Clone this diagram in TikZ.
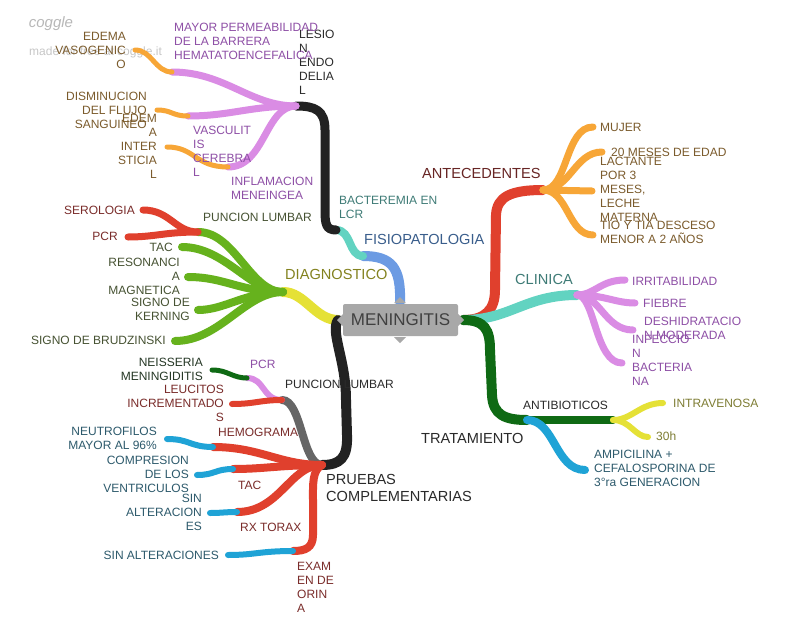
\documentclass[tikz,border=0pt]{standalone}
\usepackage{fontspec}
\setmainfont{Liberation Sans}
\definecolor{orangeB}{HTML}{F7A637}
\definecolor{violetB}{HTML}{DA8CE4}
\definecolor{tealB}{HTML}{62D3C1}
\definecolor{blueB}{HTML}{6C9BE3}
\definecolor{blackB}{HTML}{222222}
\definecolor{yellowB}{HTML}{E5E136}
\definecolor{greenB}{HTML}{66B21D}
\definecolor{redB}{HTML}{E0402D}
\definecolor{grayB}{HTML}{666666}
\definecolor{dkgreenB}{HTML}{0F6A14}
\definecolor{cyanB}{HTML}{1FA3D6}
\definecolor{brownT}{HTML}{7B5B2C}
\definecolor{violetT}{HTML}{8E4FA6}
\definecolor{tealT}{HTML}{3E7B76}
\definecolor{blueT}{HTML}{3A5E8C}
\definecolor{oliveT}{HTML}{83821F}
\definecolor{greenT}{HTML}{465232}
\definecolor{redT}{HTML}{7A2C2A}
\definecolor{darkT}{HTML}{2A2A2A}
\definecolor{cyanT}{HTML}{2D5A6C}
\definecolor{yellowT}{HTML}{7E7D34}
\definecolor{boxG}{HTML}{A8A8A8}
\begin{document}
\begin{tikzpicture}[x=1pt,y=-1pt,
  branch/.style={line width=#1, line cap=round},
  lf/.style={font=\fontsize{12}{14}\selectfont, inner sep=0pt, text=#1},
  big/.style={font=\fontsize{14.6}{17}\selectfont, inner sep=0pt, text=#1},
  lftR/.style={lf=#1, align=right},
  lftL/.style={lf=#1, align=left}]
\useasboundingbox[fill=white] (0,0) rectangle (785,640);
% watermark
\node[font=\fontsize{15}{15}\selectfont\itshape, text=black!28, inner sep=0pt] (wm1) at (51,24) {coggle};
\node[lf=black!22, anchor=west] (wm2) at (29,52) {made for free at coggle.it};

% coordinates
\coordinate (cT) at (400,302);
\coordinate (cL) at (338,320);
\coordinate (cR) at (463,320);
\coordinate (fisio) at (363,256);
\coordinate (bact) at (336,230);
\coordinate (lesion) at (296,106);
\coordinate (vTop) at (172,72);
\coordinate (vMid) at (188,116);
\coordinate (vLow) at (228,167);
\coordinate (oTop) at (135,50);
\coordinate (oMid) at (157,110);
\coordinate (oLow) at (167,147);
\coordinate (diag) at (283,292);
\coordinate (gPL) at (198,232);
\coordinate (gTAC) at (182,247);
\coordinate (gRES) at (188,277);
\coordinate (gKER) at (198,310);
\coordinate (gBRU) at (175,341);
\coordinate (rSER) at (143,210);
\coordinate (rPCR) at (128,237);
\coordinate (prue) at (322,465);
\coordinate (pPL) at (282,400);
\coordinate (pPCR) at (247,378);
\coordinate (pNEI) at (212,370);
\coordinate (pLEU) at (232,404);
\coordinate (pHEM) at (213,447);
\coordinate (pTAC) at (233,469);
\coordinate (pRX) at (237,512);
\coordinate (pEX) at (293,551);
\coordinate (bNEU) at (167,439);
\coordinate (bCOM) at (197,475);
\coordinate (bSIN) at (210,513);
\coordinate (bSIN2) at (228,555);
\coordinate (ante) at (543,190);
\coordinate (aMUJ) at (593,127);
\coordinate (a20) at (602,152);
\coordinate (aLAC) at (592,191);
\coordinate (aTIO) at (593,235);
\coordinate (clin) at (577,295);
\coordinate (cIRR) at (625,280);
\coordinate (cFIE) at (635,303);
\coordinate (cDES) at (633,330);
\coordinate (cINF) at (622,363);
\coordinate (trat) at (527,420);
\coordinate (anti) at (613,420);
\coordinate (yIV) at (663,403);
\coordinate (y30) at (648,437);
\coordinate (amp) at (585,470);

% ---- branches: FISIOPATOLOGIA
\draw[branch=10, blueB] (cT) .. controls (401,268) and (392,256) .. (fisio);
\draw[branch=8, tealB] (fisio) .. controls (348,256) and (352,230) .. (bact);
\draw[branch=9, blackB] (bact) .. controls (326,230) and (325,224) .. (325,210) -- (325,130) .. controls (325,110) and (315,106) .. (lesion);
\draw[branch=7, violetB] (lesion) .. controls (250,106) and (225,72) .. (vTop);
\draw[branch=7, violetB] (lesion) .. controls (250,106) and (230,116) .. (vMid);
\draw[branch=7, violetB] (lesion) .. controls (265,106) and (265,167) .. (vLow);
\draw[branch=5, orangeB] (vTop) .. controls (155,72) and (152,50) .. (oTop);
\draw[branch=5, orangeB] (vMid) .. controls (172,116) and (172,110) .. (oMid);
\draw[branch=5, orangeB] (vLow) .. controls (195,167) and (195,147) .. (oLow);
% ---- DIAGNOSTICO
\draw[branch=10, yellowB] (cL) .. controls (315,320) and (305,292) .. (diag);
\draw[branch=8, greenB] (diag) .. controls (250,292) and (235,232) .. (gPL);
\draw[branch=8, greenB] (diag) .. controls (250,292) and (225,247) .. (gTAC);
\draw[branch=8, greenB] (diag) .. controls (240,292) and (225,277) .. (gRES);
\draw[branch=8, greenB] (diag) .. controls (245,292) and (225,310) .. (gKER);
\draw[branch=8, greenB] (diag) .. controls (245,292) and (220,341) .. (gBRU);
\draw[branch=7, redB] (gPL) .. controls (175,232) and (170,210) .. (rSER);
\draw[branch=7, redB] (gPL) .. controls (165,232) and (155,237) .. (rPCR);
% ---- PRUEBAS
\draw[branch=10, blackB] (cL) .. controls (330,332) and (346,360) .. (346,400) -- (347,435) .. controls (348,458) and (340,465) .. (prue);
\draw[branch=8, grayB] (prue) .. controls (302,465) and (302,400) .. (pPL);
\draw[branch=6, violetB] (pPL) .. controls (262,400) and (265,378) .. (pPCR);
\draw[branch=5, dkgreenB] (pPCR) .. controls (232,378) and (228,370) .. (pNEI);
\draw[branch=6, redB] (pPL) .. controls (260,400) and (255,404) .. (pLEU);
\draw[branch=8, redB] (prue) .. controls (280,465) and (260,447) .. (pHEM);
\draw[branch=8, redB] (prue) .. controls (280,465) and (265,469) .. (pTAC);
\draw[branch=8, redB] (prue) .. controls (290,465) and (280,512) .. (pRX);
\draw[branch=8, redB] (prue) .. controls (312,470) and (313,485) .. (313,500) -- (313,535) .. controls (313,548) and (305,551) .. (pEX);
\draw[branch=6, cyanB] (pHEM) .. controls (190,447) and (190,439) .. (bNEU);
\draw[branch=6, cyanB] (pTAC) .. controls (215,469) and (215,475) .. (bCOM);
\draw[branch=6, cyanB] (pRX) .. controls (225,512) and (222,513) .. (bSIN);
\draw[branch=6, cyanB] (pEX) .. controls (260,551) and (255,555) .. (bSIN2);
% ---- ANTECEDENTES
\draw[branch=10, redB] (cR) .. controls (485,320) and (495,310) .. (495,290) -- (496,215) .. controls (497,197) and (510,190) .. (ante);
\draw[branch=7, orangeB] (ante) .. controls (568,190) and (565,127) .. (aMUJ);
\draw[branch=7, orangeB] (ante) .. controls (570,190) and (575,152) .. (a20);
\draw[branch=7, orangeB] (ante) -- (aLAC);
\draw[branch=7, orangeB] (ante) .. controls (568,190) and (568,235) .. (aTIO);
% ---- CLINICA
\draw[branch=10, tealB] (cR) .. controls (510,320) and (525,295) .. (clin);
\draw[branch=7, violetB] (clin) .. controls (595,295) and (600,280) .. (cIRR);
\draw[branch=7, violetB] (clin) .. controls (605,295) and (615,303) .. (cFIE);
\draw[branch=7, violetB] (clin) .. controls (600,295) and (605,330) .. (cDES);
\draw[branch=7, violetB] (clin) .. controls (595,295) and (595,363) .. (cINF);
% ---- TRATAMIENTO
\draw[branch=10, dkgreenB] (cR) .. controls (485,320) and (490,330) .. (490,350) -- (492,395) .. controls (493,415) and (505,420) .. (trat);
\draw[branch=8, dkgreenB] (trat) -- (anti);
\draw[branch=6, yellowB] (anti) .. controls (632,420) and (640,403) .. (yIV);
\draw[branch=6, yellowB] (anti) .. controls (630,420) and (635,437) .. (y30);
\draw[branch=8, cyanB] (trat) .. controls (555,420) and (555,470) .. (amp);

% ---- central box
\fill[boxG] (400,297) -- (406,303) -- (394,303) -- cycle;
\fill[boxG] (400,343) -- (406,337) -- (394,337) -- cycle;
\fill[boxG] (337,320) -- (343,314) -- (343,326) -- cycle;
\fill[boxG] (464,320) -- (458,314) -- (458,326) -- cycle;
\node[fill=boxG, rounded corners=2pt, minimum width=115pt, minimum height=32pt, inner sep=0pt,
  font=\fontsize{17}{17}\selectfont, text=black!75] (center) at (400.5,320) {MENINGITIS};

% ---- texts FISIOPATOLOGIA
\node[big=blueT, anchor=west] (tFisio) at (364,239) {FISIOPATOLOGIA};
\node[lftL=tealT, anchor=north west] (tBact) at (339,196) {BACTEREMIA EN\\LCR};
\node[lftL=darkT, anchor=north west] (tLes) at (299,30) {LESIO\\N\\ENDO\\DELIA\\L};
\node[lftL=violetT, anchor=north west] (tMay) at (174,23) {MAYOR PERMEABILIDAD\\DE LA BARRERA\\HEMATATOENCEFALICA};
\node[lftL=violetT, anchor=north west] (tVas) at (193,126) {VASCULIT\\IS\\CEREBRA\\L};
\node[lftL=violetT, anchor=north west] (tInf) at (231,177) {INFLAMACION\\MENEINGEA};
\node[lftR=brownT, anchor=north east] (tEdV) at (126,32) {EDEMA\\VASOGENIC\\O};
\node[lftR=brownT, anchor=north east] (tDis) at (147,92) {DISMINUCION\\DEL FLUJO\\SANGUINEO};
\node[lftR=brownT, anchor=north east] (tEdI) at (157,114) {EDEM\\A\\INTER\\STICIA\\L};
% ---- texts DIAGNOSTICO
\node[big=oliveT, anchor=west] (tDiag) at (285,274) {DIAGNOSTICO};
\node[lf=greenT, anchor=west] (tPL) at (203,217) {PUNCION LUMBAR};
\node[lf=redT, anchor=east] (tSer) at (135,210) {SEROLOGIA};
\node[lf=redT, anchor=east] (tPcr) at (118,236) {PCR};
\node[lf=greenT, anchor=east] (tTac) at (173,247) {TAC};
\node[lftR=greenT, anchor=north east] (tRes) at (180,258) {RESONANCI\\A\\MAGNETICA};
\node[lftR=greenT, anchor=north east] (tKer) at (190,298) {SIGNO DE\\KERNING};
\node[lf=greenT, anchor=east] (tBru) at (166,340) {SIGNO DE BRUDZINSKI};
% ---- texts PRUEBAS
\node[big=darkT, anchor=north west, align=left] (tPru) at (326,474) {PRUEBAS\\COMPLEMENTARIAS};
\node[lf=darkT, anchor=west] (tPL2) at (285,384) {PUNCION LUMBAR};
\node[lf=violetT, anchor=west] (tPcr2) at (250,364) {PCR};
\node[lftR=darkT!80!dkgreenB, anchor=north east] (tNei) at (203,358) {NEISSERIA\\MENINGIDITIS};
\node[lftR=redT, anchor=north east] (tLeu) at (224,385) {LEUCITOS\\INCREMENTADO\\S};
\node[lf=redT, anchor=west] (tHem) at (218,432) {HEMOGRAMA};
\node[lftR=cyanT, anchor=north east] (tNeu) at (157,427) {NEUTROFILOS\\MAYOR AL 96\%};
\node[lf=redT, anchor=west] (tTac2) at (238,485) {TAC};
\node[lftR=cyanT, anchor=north east] (tCom) at (189,456) {COMPRESION\\DE LOS\\VENTRICULOS};
\node[lf=redT, anchor=west] (tRx) at (240,527) {RX TORAX};
\node[lftR=cyanT, anchor=north east] (tSin) at (202,494) {SIN\\ALTERACION\\ES};
\node[lftL=redT, anchor=north west] (tExa) at (297,562) {EXAM\\EN DE\\ORIN\\A};
\node[lf=cyanT, anchor=east] (tSin2) at (219,555) {SIN ALTERACIONES};
% ---- texts ANTECEDENTES
\node[big=redT!85!black, anchor=west] (tAnt) at (422,173) {ANTECEDENTES};
\node[lf=brownT, anchor=west] (tMuj) at (600,127) {MUJER};
\node[lf=brownT, anchor=west] (t20) at (611,152) {20 MESES DE EDAD};
\node[lftL=brownT, anchor=north west] (tLac) at (600,157) {LACTANTE\\POR 3\\MESES,\\LECHE\\MATERNA};
\node[lftL=brownT, anchor=north west] (tTio) at (600,221) {TIO Y TIA DESCESO\\MENOR A 2 AÑOS};
% ---- texts CLINICA
\node[big=tealT, anchor=west] (tClin) at (515,279) {CLINICA};
\node[lf=violetT, anchor=west] (tIrr) at (632,281) {IRRITABILIDAD};
\node[lf=violetT, anchor=west] (tFie) at (643,303) {FIEBRE};
\node[lftL=violetT, anchor=north west] (tDes) at (644,317) {DESHIDRATACIO\\N MODERADA};
\node[lftL=violetT, anchor=north west] (tInfB) at (632,335) {INFECCIO\\N\\BACTERIA\\NA};
% ---- texts TRATAMIENTO
\node[big=darkT, anchor=west] (tTrat) at (421,438) {TRATAMIENTO};
\node[lf=darkT, anchor=west] (tAnti) at (523,405) {ANTIBIOTICOS};
\node[lf=yellowT, anchor=west] (tIV) at (673,403) {INTRAVENOSA};
\node[lf=yellowT, anchor=west] (t30) at (656,436) {30h};
\node[lftL=cyanT, anchor=north west] (tAmp) at (594,450) {AMPICILINA +\\CEFALOSPORINA DE\\3°ra GENERACION};
\end{tikzpicture}
\end{document}
